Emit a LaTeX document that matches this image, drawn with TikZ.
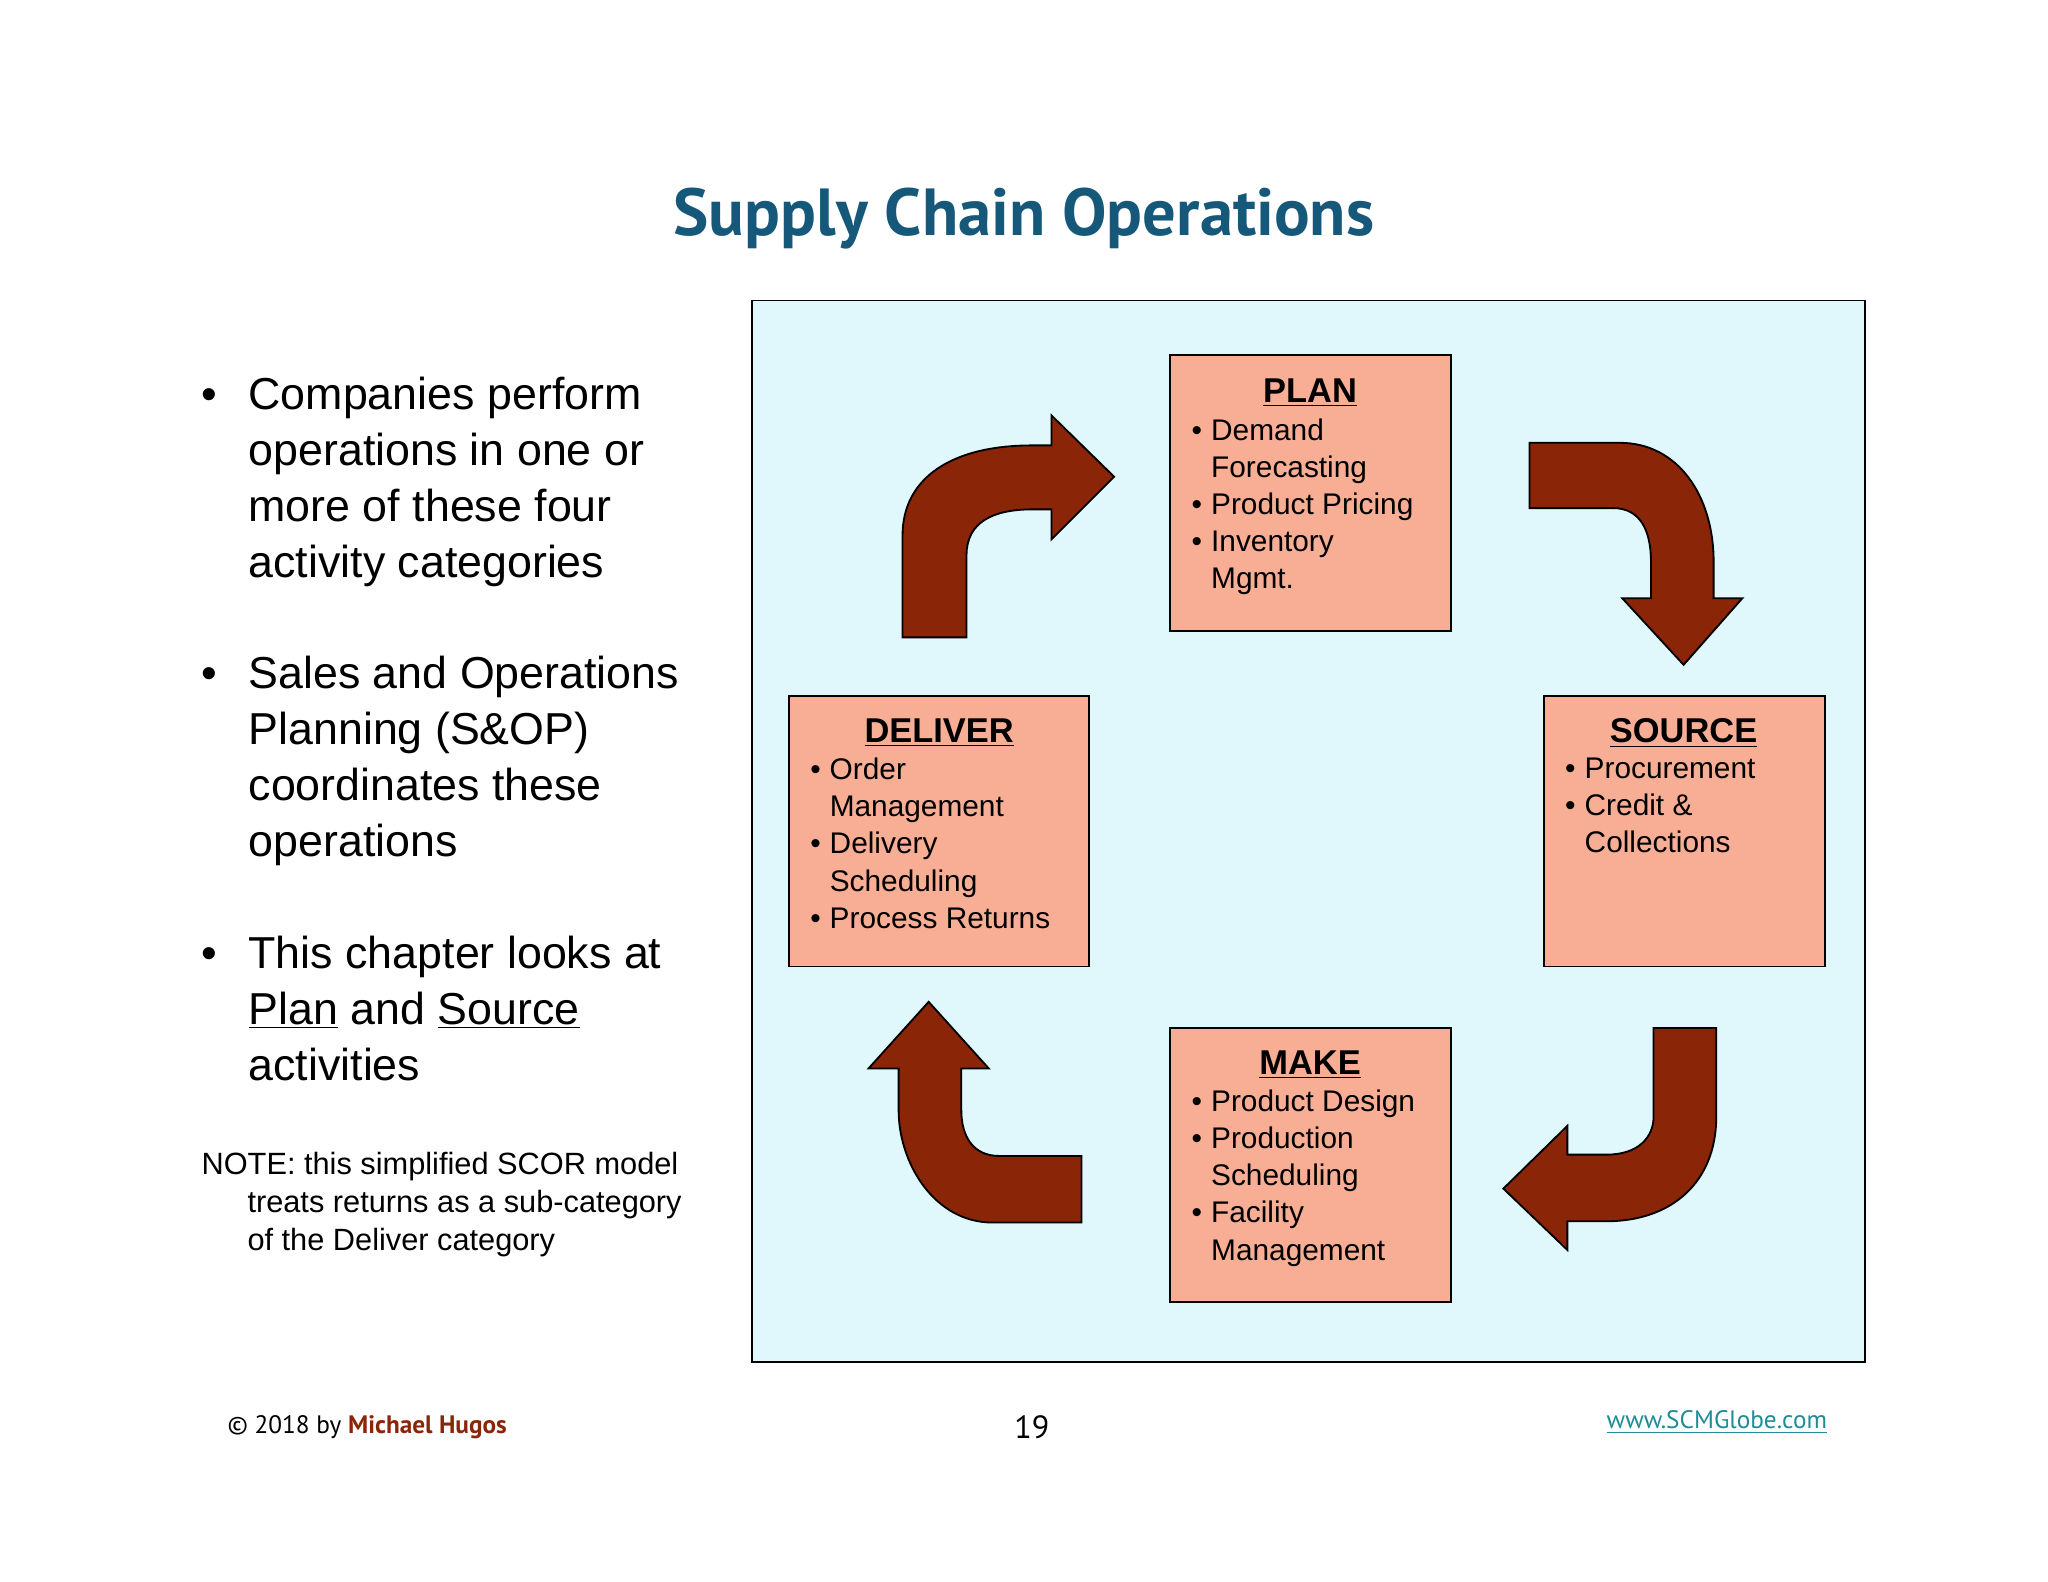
\documentclass[tikz,border=0pt]{standalone}
\usepackage{fontspec}
\setmainfont{Liberation Sans}
\newfontfamily\headfont{PT Sans}
\usetikzlibrary{positioning}
\definecolor{panelblue}{HTML}{E0F7FC}
\definecolor{boxsalmon}{HTML}{F7AE94}
\definecolor{arrowred}{HTML}{8B2508}
\definecolor{titleblue}{HTML}{15587A}
\definecolor{linkteal}{HTML}{1E8C96}
\newcommand{\bl}{\makebox[8.5pt][l]{\textbullet}}
\newcommand{\ind}{\hspace*{8.5pt}}
\newcommand{\pbl}{\makebox[20.5pt][l]{\textbullet}}
\newcommand{\pind}{\hspace*{20.5pt}}
\begin{document}
\begin{tikzpicture}[
  x=0.02cm, y=-0.02cm,
  box/.style={draw, fill=boxsalmon, thick, inner sep=0pt},
  boxhead/.style={font=\fontsize{15}{18}\selectfont\bfseries, anchor=north},
  boxtext/.style={font=\fontsize{13}{16.2}\selectfont, align=left, anchor=north west, inner sep=0pt},
  bigarrow/.style={draw, thick, fill=arrowred},
  point/.style={font=\fontsize{19.5}{24.4}\selectfont, align=left, anchor=north west, inner sep=0pt}]

\useasboundingbox (0,0) rectangle (1568,1211);

% Title and the panel
\node[font=\headfont\bfseries\fontsize{29}{34}\selectfont, text=titleblue] (title) at (784,167) {Supply Chain Operations};
\draw[thick, fill=panelblue] (576,230) rectangle (1428,1043);

% The four category boxes
\draw[box] (896,272) rectangle (1111,483);
\draw[box] (604,533) rectangle (834,740);
\draw[box] (1182,533) rectangle (1397,740);
\draw[box] (896,787) rectangle (1111,997);

\node[boxhead] (planHead) at (1003,284) {\underline{PLAN}};
\node[boxtext] (planText) at (912,320) {\bl Demand\\\ind Forecasting\\\bl Product Pricing\\\bl Inventory\\\ind Mgmt.};

\node[boxhead] (deliverHead) at (719,544) {\underline{DELIVER}};
\node[boxtext] (deliverText) at (620,580) {\bl Order\\\ind Management\\\bl Delivery\\\ind Scheduling\\\bl Process Returns};

\node[boxhead] (sourceHead) at (1289,544) {\underline{SOURCE}};
\node[boxtext] (sourceText) at (1198,580) {\bl Procurement\\\bl Credit \&\\\ind Collections};

\node[boxhead] (makeHead) at (1003,798) {\underline{MAKE}};
\node[boxtext] (makeText) at (912,834) {\bl Product Design\\\bl Production\\\ind Scheduling\\\bl Facility\\\ind Management};

% Curved block arrows between the boxes
\draw[bigarrow] (691,488) -- (691,410) .. controls (691,365) and (730,341) .. (790,341) -- (805,341) -- (805,318) -- (853,365) -- (805,413) -- (805,390) -- (790,390) .. controls (760,390) and (740,400) .. (740,425) -- (740,488) -- cycle;
\draw[bigarrow] (1171,339) -- (1240,339) .. controls (1285,339) and (1312,380) .. (1312,430) -- (1312,458) -- (1334,458) -- (1289,509) -- (1242,458) -- (1264,458) -- (1264,430) .. controls (1264,405) and (1255,389) .. (1235,389) -- (1171,389) -- cycle;
\draw[bigarrow] (1266,787) -- (1314,787) -- (1314,855) .. controls (1314,905) and (1280,935) .. (1230,935) -- (1200,935) -- (1200,957) -- (1151,910) -- (1200,862) -- (1200,884) -- (1230,884) .. controls (1255,884) and (1266,870) .. (1266,855) -- cycle;
\draw[bigarrow] (828,885) -- (828,936) -- (760,936) .. controls (715,936) and (688,890) .. (688,850) -- (688,818) -- (665,818) -- (711,767) -- (757,818) -- (736,818) -- (736,850) .. controls (736,870) and (745,885) .. (765,885) -- cycle;

% Points on the left
\node[point] (pointA) at (154,288) {\pbl Companies perform\\\pind operations in one or\\\pind more of these four\\\pind activity categories};
\node[point] (pointB) at (154,502) {\pbl Sales and Operations\\\pind Planning (S\&OP)\\\pind coordinates these\\\pind operations};
\node[point] (pointC) at (154,716) {\pbl This chapter looks at\\\pind \underline{Plan} and \underline{Source}\\\pind activities};
\node[boxtext, font=\fontsize{13.4}{16.4}\selectfont] (note) at (154,882) {NOTE: this simplified SCOR model\\\hspace*{20pt}treats returns as a sub-category\\\hspace*{20pt}of the Deliver category};

% Footer
\node[font=\headfont\fontsize{11}{13}\selectfont, anchor=west] (credit) at (168,1093) {\textcopyright{} 2018 by \textcolor{arrowred}{\bfseries Michael Hugos}};
\node[font=\headfont\fontsize{14}{16}\selectfont] (pageNo) at (790,1093) {19};
\node[font=\headfont\fontsize{11}{13}\selectfont, text=linkteal, anchor=east] (site) at (1405,1089) {\underline{www.SCMGlobe.com}};
\end{tikzpicture}
\end{document}
